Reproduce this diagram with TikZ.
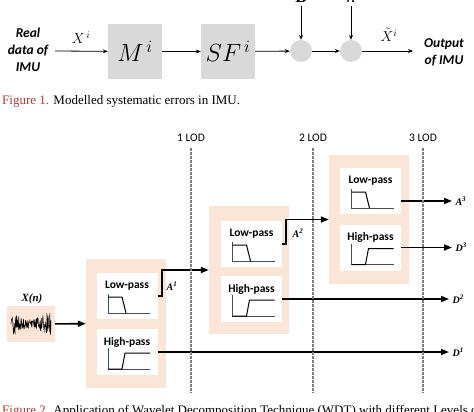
\documentclass[tikz,border=0pt]{standalone}
\usepackage{fontspec}
\setmainfont{Carlito}
\newfontfamily\tms{Liberation Serif}
\usetikzlibrary{arrows.meta,positioning}
\definecolor{peach}{RGB}{251,229,214}
\definecolor{boxgray}{RGB}{217,217,217}
\definecolor{dotgray}{RGB}{125,125,125}
\definecolor{capred}{RGB}{170,62,62}

\tikzset{
  graybox/.style={fill=boxgray, minimum width=54pt, minimum height=55pt, inner sep=0pt},
  sumnode/.style={circle, fill=boxgray, minimum size=22pt, inner sep=0pt},
  thinarr/.style={-{Stealth[length=5pt,width=4pt]}, line width=0.8pt},
  peachbox/.style={fill=peach, inner sep=0pt},
  passbox/.style={fill=white, minimum width=61pt, minimum height=46pt, inner sep=0pt},
  thickarr/.style={-{Triangle[length=8pt,width=6pt]}, line width=1.6pt},
  lodline/.style={dotgray, line width=1.5pt, dash pattern=on 2.5pt off 1.5pt},
  passlabel/.style={font=\fontsize{11.5}{13}\selectfont\bfseries},
  coef/.style={font=\fontsize{10}{12}\selectfont\tms\bfseries\itshape},
  caption/.style={font=\fontsize{13}{15}\selectfont\tms, inner sep=0pt},
  % filter icons, drawn from the centre of a pass box
  lowicon/.pic={
    \draw[line width=0.6pt, black!70] (-19,-2) -- (-19,17) -- (23,17);
    \draw[line width=1pt] (-19,1) -- (-5,1) -- (-1,17);
  },
  highicon/.pic={
    \draw[line width=0.6pt, black!70] (-19,-4) -- (-19,17) -- (23,17);
    \draw[line width=1pt] (-19,17) -- (-5,17) -- (-2,1) -- (23,1);
  },
}

\begin{document}
\begin{tikzpicture}[x=1pt,y=-1pt]
        \useasboundingbox (0,0) rectangle (474,412);
        \clip (0,0) rectangle (474,412);

        % ---- figure 1: error model
        \node[align=center, font=\fontsize{13.5}{17}\selectfont\bfseries\itshape] (real) at (28,50) {Real\\data of\\IMU};
        \coordinate (xin) at (55,51);
        \node[graybox] (mbox) at (135,51.5) {\fontsize{24}{24}\selectfont$M^{\,i}$};
        \node[graybox] (sfbox) at (228,51.5) {\fontsize{23}{23}\selectfont$SF^{\,i}$};
        \node[sumnode] (sum1) at (301,51) {};
        \node[sumnode] (sum2) at (351,51) {};
        \coordinate (xout) at (413,51);
        \node[align=center, font=\fontsize{13.5}{17}\selectfont\bfseries\itshape] (out) at (444,52) {Output\\of IMU};
        \coordinate (bin) at (301,6);
        \coordinate (nin) at (351,6);
        \draw[thinarr] (xin) -- (mbox);
        \draw[thinarr] (mbox) -- (sfbox);
        \draw[thinarr] (sfbox) -- (sum1);
        \draw[thinarr] (sum1) -- (sum2);
        \draw[thinarr] (sum2) -- (xout);
        \draw[thinarr] (bin) -- (sum1);
        \draw[thinarr] (nin) -- (sum2);
        % text
        \node[font=\fontsize{14}{14}\selectfont] at (81,38) {$X^{\,i}$};
        \node[font=\fontsize{14}{14}\selectfont] at (389,35) {$\tilde{X}^{i}$};
        \node[anchor=base, font=\fontsize{17}{17}\selectfont\tms\bfseries] at (301,3) {B};
        \node[anchor=base, font=\fontsize{18}{18}\selectfont\tms\itshape] at (351,3) {n};
        \node[caption, anchor=base west] at (2,104) {\textcolor{capred}{Figure 1.} Modelled systematic errors in IMU.};

        % ---- figure 2: wavelet decomposition
        \node[peachbox, minimum width=48pt, minimum height=36pt] (xbox) at (31,324) {};
        \node[font=\fontsize{11}{12}\selectfont\tms\bfseries\itshape] at (32,299) {X(n)};
        \pgfmathsetseed{11}
        \draw[line width=0.5pt] plot[domain=11:51, samples=100] (\x,{324+rand*(3+10*(abs(\x-31)/20))});

        % level 1
        \node[peachbox, minimum width=80pt, minimum height=129pt] (lev1) at (126,323.5) {};
        \node[passbox] (low1) at (127,296) {};
        \node[passbox] (high1) at (127,352) {};
        % level 2
        \node[peachbox, minimum width=80pt, minimum height=128pt] (lev2) at (249,270) {};
        \node[passbox] (low2) at (251.5,244) {};
        \node[passbox] (high2) at (251.5,299) {};
        % level 3
        \node[peachbox, minimum width=80pt, minimum height=129pt] (lev3) at (369,219.5) {};
        \node[passbox] (low3) at (370.5,191) {};
        \node[passbox] (high3) at (370.5,247.5) {};

        % pass labels and icons
        \foreach \f in {low1,low2,low3} {
            \node[passlabel] at ([yshift=10pt]\f.center) {Low-pass};
            \pic at (\f.center) {lowicon};
        }
        \foreach \f in {high1,high2,high3} {
            \node[passlabel] at ([yshift=10pt]\f.center) {High-pass};
            \pic at (\f.center) {highicon};
        }

        % outputs
        \coordinate (a3) at (452,201);
        \coordinate (d3) at (452,247.5);
        \coordinate (d2) at (449,299);
        \coordinate (d1) at (449,352);
        \draw[thickarr] (xbox) -- (lev1);
        \draw[thickarr] (low1.east) -- ++(4,0) |- (lev2.west);
        \draw[thickarr] (low2.east) -- ++(4,0) |- (lev3.west);
        \draw[thickarr] ([yshift=-10pt]low3.east) -- (a3);
        \draw[thickarr] (high3.east) -- (d3);
        \draw[thickarr] (high2.east) -- (d2);
        \draw[thickarr] (high1.east) -- (d1);
        \node[coef] at (172,286) {A\textsuperscript{1}};
        \node[coef] at (298,233) {A\textsuperscript{2}};
        \node[coef, anchor=west] at (a3) {A\textsuperscript{3}};
        \node[coef, anchor=west] at (d3) {D\textsuperscript{3}};
        \node[coef, anchor=west] at (d2) {D\textsuperscript{2}};
        \node[coef, anchor=west] at (d1) {D\textsuperscript{1}};

        % levels of decomposition
        \foreach \x/\n in {191/1,313/2,423/3} {
            \draw[lodline] (\x,148) -- (\x,393);
            \node[font=\fontsize{11.5}{12}\selectfont] at (\x,138) {\n{} LOD};
        }
        \node[caption, anchor=base west] at (2,414) {\textcolor{capred}{Figure 2.} Application of Wavelet Decomposition Technique (WDT) with different Levels of Decomposition};
    \end{tikzpicture}
\end{document}
